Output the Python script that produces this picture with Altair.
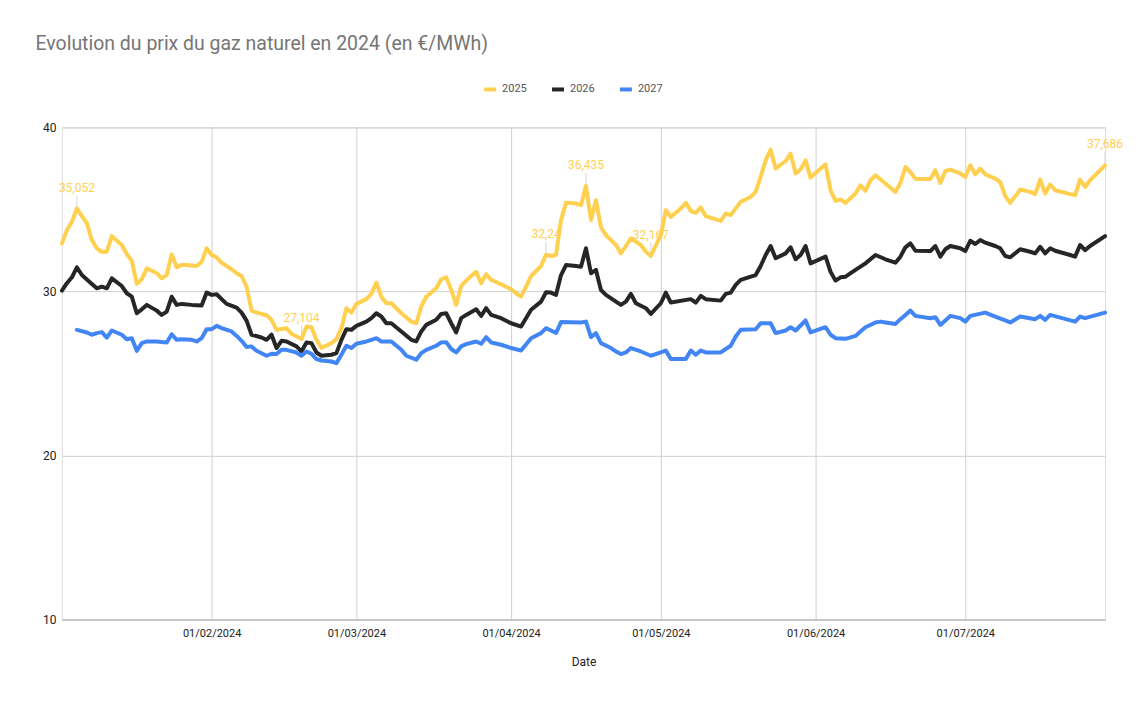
import altair as alt
import pandas as pd

# ---------------- data ----------------
series_names = ["2025", "2026", "2027"]
series_colors = ["#FFD04F", "#262626", "#4285F4"]

dates_2025 = [
    "01-02", "01-03", "01-04", "01-05", "01-07", "01-08", "01-09", "01-10", "01-11", "01-12", "01-14", "01-15", "01-16",
    "01-17", "01-18", "01-19", "01-21", "01-22", "01-23", "01-24", "01-25", "01-26", "01-27", "01-29", "01-30", "01-31",
    "02-01", "02-02", "02-03", "02-05", "02-06", "02-07", "02-08", "02-09", "02-10", "02-12", "02-13", "02-14", "02-16",
    "02-17", "02-19", "02-20", "02-21", "02-22", "02-23", "02-25", "02-26", "02-27", "02-28", "02-29",
    "03-01", "03-03", "03-04", "03-05", "03-06", "03-07", "03-08", "03-10", "03-12", "03-13", "03-14", "03-15", "03-17",
    "03-18", "03-19", "03-20", "03-21", "03-22", "03-23", "03-24", "03-25", "03-26", "03-27", "03-28", "03-30",
    "04-01", "04-02", "04-03", "04-04", "04-05", "04-07", "04-08", "04-09", "04-10", "04-11", "04-12", "04-14", "04-15",
    "04-16", "04-17", "04-18", "04-19", "04-20", "04-22", "04-23", "04-24", "04-25", "04-27", "04-28", "04-29",
    "05-01", "05-02", "05-03", "05-05", "05-06", "05-07", "05-08", "05-09", "05-10", "05-13", "05-14", "05-15", "05-16",
    "05-17", "05-19", "05-20", "05-21", "05-22", "05-23", "05-24", "05-26", "05-27", "05-28", "05-29", "05-30", "05-31",
    "06-03", "06-04", "06-05", "06-06", "06-07", "06-09", "06-10", "06-11", "06-12", "06-13", "06-15", "06-17", "06-18",
    "06-19", "06-20", "06-21", "06-24", "06-25", "06-26", "06-27", "06-28", "06-30",
    "07-01", "07-02", "07-03", "07-04", "07-05", "07-07", "07-08", "07-09", "07-10", "07-12", "07-14", "07-15", "07-16",
    "07-17", "07-18", "07-19", "07-22", "07-23", "07-24", "07-25", "07-26", "07-29",
]
values_2025 = [
    32.93, 33.74, 34.24, 35.052, 34.15, 33.13, 32.63, 32.42, 32.42, 33.37, 32.83, 32.28, 31.87,
    30.46, 30.74, 31.41, 31.11, 30.80, 31.00, 32.26, 31.47, 31.61, 31.61, 31.55, 31.81, 32.63,
    32.22, 32.08, 31.75, 31.35, 31.11, 30.94, 30.29, 28.83, 28.71, 28.55, 28.27, 27.66, 27.76,
    27.42, 27.104, 27.86, 27.82, 27.05, 26.55, 26.85, 27.09, 27.76, 28.98, 28.71,
    29.24, 29.53, 29.85, 30.54, 29.68, 29.28, 29.28, 28.67, 28.16, 28.06, 29.08, 29.68, 30.19,
    30.74, 30.86, 30.09, 29.18, 30.33, 30.66, 30.94, 31.20, 30.50, 31.05, 30.70, 30.44,
    30.13, 29.89, 29.68, 30.29, 30.94, 31.55, 32.24, 32.16, 32.22, 34.35, 35.40, 35.36, 35.26,
    36.435, 34.35, 35.56, 33.90, 33.43, 32.83, 32.32, 32.77, 33.23, 32.83, 32.42, 32.167,
    33.43, 34.95, 34.55, 35.06, 35.40, 34.91, 34.79, 35.12, 34.59, 34.30, 34.75, 34.65, 35.06,
    35.46, 35.76, 36.07, 36.98, 37.99, 38.64, 37.49, 37.95, 38.40, 37.19, 37.43, 37.99, 36.94,
    37.75, 36.17, 35.52, 35.61, 35.40, 35.97, 36.47, 36.13, 36.78, 37.08, 36.58, 36.07, 36.61,
    37.59, 37.28, 36.86, 36.86, 37.39, 36.61, 37.34, 37.43, 37.19,
    36.98, 37.69, 37.14, 37.49, 37.14, 36.88, 36.67, 35.81, 35.40, 36.21, 36.07, 35.93, 36.82,
    35.97, 36.52, 36.17, 35.93, 35.87, 36.82, 36.37, 36.78, 37.686,
]

dates_2026 = [
    "01-02", "01-03", "01-04", "01-05", "01-06", "01-08", "01-09", "01-10", "01-11", "01-12", "01-14", "01-15", "01-16",
    "01-17", "01-18", "01-19", "01-21", "01-22", "01-23", "01-24", "01-25", "01-26", "01-28", "01-30", "01-31",
    "02-01", "02-02", "02-03", "02-04", "02-06", "02-07", "02-08", "02-09", "02-11", "02-12", "02-13", "02-14", "02-15",
    "02-16", "02-18", "02-19", "02-20", "02-21", "02-22", "02-23", "02-25", "02-26", "02-27", "02-28", "02-29",
    "03-01", "03-03", "03-04", "03-05", "03-06", "03-07", "03-08", "03-10", "03-12", "03-13", "03-14", "03-15", "03-17",
    "03-18", "03-19", "03-20", "03-21", "03-22", "03-23", "03-25", "03-26", "03-27", "03-28", "03-30",
    "04-01", "04-03", "04-05", "04-07", "04-08", "04-09", "04-10", "04-11", "04-12", "04-14", "04-15", "04-16", "04-17",
    "04-18", "04-19", "04-20", "04-22", "04-23", "04-24", "04-25", "04-26", "04-28", "04-29",
    "05-01", "05-02", "05-03", "05-07", "05-08", "05-09", "05-10", "05-13", "05-14", "05-15", "05-16", "05-17", "05-20",
    "05-21", "05-22", "05-23", "05-24", "05-26", "05-27", "05-28", "05-29", "05-30", "05-31",
    "06-03", "06-04", "06-05", "06-06", "06-07", "06-09", "06-11", "06-13", "06-15", "06-17", "06-18", "06-19", "06-20",
    "06-21", "06-24", "06-25", "06-26", "06-27", "06-28", "06-30",
    "07-01", "07-02", "07-03", "07-04", "07-05", "07-07", "07-08", "07-09", "07-10", "07-12", "07-14", "07-15", "07-16",
    "07-17", "07-18", "07-19", "07-22", "07-23", "07-24", "07-25", "07-26", "07-29",
]
values_2026 = [
    30.05, 30.50, 30.86, 31.47, 31.00, 30.46, 30.19, 30.29, 30.19, 30.80, 30.33, 29.89, 29.68,
    28.67, 28.91, 29.18, 28.83, 28.57, 28.77, 29.68, 29.18, 29.24, 29.18, 29.14, 29.93,
    29.79, 29.83, 29.53, 29.24, 29.01, 28.71, 28.22, 27.36, 27.19, 27.05, 27.36, 26.55, 26.99,
    26.95, 26.65, 26.34, 26.89, 26.85, 26.28, 26.08, 26.14, 26.24, 27.05, 27.70, 27.66,
    27.90, 28.16, 28.37, 28.67, 28.47, 28.06, 28.06, 27.56, 27.05, 26.95, 27.56, 27.96, 28.27,
    28.63, 28.67, 28.06, 27.50, 28.37, 28.57, 28.91, 28.51, 28.98, 28.57, 28.37,
    28.06, 27.86, 28.88, 29.38, 29.95, 29.93, 29.79, 31.00, 31.61, 31.55, 31.51, 32.63, 31.11,
    31.31, 30.09, 29.79, 29.38, 29.18, 29.38, 29.85, 29.28, 28.98, 28.63,
    29.28, 29.93, 29.32, 29.53, 29.32, 29.73, 29.53, 29.44, 29.85, 29.93, 30.40, 30.70, 31.00,
    31.55, 32.22, 32.77, 32.02, 32.32, 32.69, 31.96, 32.22, 32.77, 31.71,
    32.12, 31.20, 30.66, 30.86, 30.90, 31.31, 31.71, 32.22, 31.96, 31.75, 32.12, 32.69, 32.93,
    32.48, 32.46, 32.77, 32.12, 32.57, 32.77, 32.63,
    32.46, 33.09, 32.89, 33.13, 32.97, 32.77, 32.63, 32.16, 32.08, 32.57, 32.42, 32.32, 32.72,
    32.32, 32.63, 32.48, 32.22, 32.12, 32.83, 32.52, 32.77, 33.37,
]

dates_2027 = [
    "01-05", "01-07", "01-08", "01-09", "01-10", "01-11", "01-12", "01-14", "01-15", "01-16", "01-17", "01-18", "01-19",
    "01-21", "01-23", "01-24", "01-25", "01-26", "01-28", "01-29", "01-30", "01-31",
    "02-01", "02-02", "02-03", "02-05", "02-06", "02-07", "02-08", "02-09", "02-10", "02-12", "02-13", "02-14", "02-15",
    "02-16", "02-18", "02-19", "02-20", "02-21", "02-22", "02-23", "02-25", "02-26", "02-27", "02-28", "02-29",
    "03-01", "03-03", "03-04", "03-05", "03-06", "03-08", "03-10", "03-11", "03-13", "03-14", "03-15", "03-17", "03-18",
    "03-19", "03-20", "03-21", "03-22", "03-23", "03-25", "03-26", "03-27", "03-28", "03-30",
    "04-01", "04-03", "04-05", "04-07", "04-08", "04-09", "04-10", "04-11", "04-15", "04-16", "04-17", "04-18", "04-19",
    "04-21", "04-22", "04-23", "04-24", "04-25", "04-27", "04-29",
    "05-01", "05-02", "05-03", "05-06", "05-07", "05-08", "05-09", "05-10", "05-13", "05-14", "05-15", "05-16", "05-17",
    "05-20", "05-21", "05-23", "05-24", "05-26", "05-27", "05-28", "05-30", "05-31",
    "06-03", "06-04", "06-05", "06-07", "06-09", "06-10", "06-11", "06-13", "06-14", "06-15", "06-17", "06-18", "06-19",
    "06-20", "06-21", "06-24", "06-25", "06-26", "06-27", "06-28", "06-30",
    "07-01", "07-02", "07-05", "07-07", "07-09", "07-10", "07-12", "07-15", "07-16", "07-17", "07-18", "07-23", "07-24",
    "07-25", "07-29",
]
values_2027 = [
    27.66, 27.50, 27.36, 27.46, 27.52, 27.19, 27.62, 27.36, 27.09, 27.15, 26.38, 26.85, 26.95,
    26.95, 26.89, 27.39, 27.05, 27.09, 27.05, 26.95, 27.15, 27.70,
    27.70, 27.90, 27.76, 27.56, 27.29, 26.99, 26.61, 26.65, 26.38, 26.08, 26.20, 26.18, 26.44,
    26.44, 26.28, 26.08, 26.34, 26.20, 25.88, 25.79, 25.73, 25.63, 26.14, 26.69, 26.55,
    26.81, 26.95, 27.05, 27.15, 26.95, 26.95, 26.44, 26.08, 25.84, 26.24, 26.44, 26.69, 26.89,
    26.91, 26.49, 26.28, 26.65, 26.79, 26.95, 26.81, 27.21, 26.89, 26.75,
    26.55, 26.40, 27.15, 27.46, 27.76, 27.62, 27.46, 28.13, 28.11, 28.16, 27.21, 27.46, 26.85,
    26.55, 26.34, 26.18, 26.28, 26.55, 26.34, 26.08,
    26.28, 26.40, 25.88, 25.88, 26.40, 26.14, 26.40, 26.28, 26.28, 26.49, 26.69, 27.25, 27.66,
    27.70, 28.06, 28.06, 27.46, 27.62, 27.82, 27.62, 28.23, 27.50,
    27.82, 27.36, 27.15, 27.11, 27.29, 27.56, 27.82, 28.11, 28.16, 28.11, 28.02, 28.31, 28.57,
    28.83, 28.51, 28.37, 28.43, 27.96, 28.23, 28.51, 28.37,
    28.16, 28.51, 28.71, 28.47, 28.23, 28.11, 28.47, 28.31, 28.51, 28.27, 28.57, 28.16, 28.47,
    28.37, 28.71,
]

# data labels shown on the 2025 series
label_dates = ["01-05", "02-19", "04-08", "04-16", "04-29", "07-29"]
label_values = [35.052, 27.104, 32.24, 36.435, 32.167, 37.686]
label_texts = ["35,052", "27,104", "32,24", "36,435", "32,167", "37,686"]

month_ticks = [2, 3, 4, 5, 6, 7]

# ---------------- build tables ----------------
rows = []
for name, ds, vs in [("2025", dates_2025, values_2025),
                     ("2026", dates_2026, values_2026),
                     ("2027", dates_2027, values_2027)]:
    assert len(ds) == len(vs), (name, len(ds), len(vs))
    for d, v in zip(ds, vs):
        rows.append({"Date": "2024-" + d, "Année": name, "Prix": v})
df = pd.DataFrame(rows)

lab = pd.DataFrame({
    "Date": ["2024-" + d for d in label_dates],
    "Prix": label_values,
    "txt": label_texts,
})

FONT = "Roboto"

x_enc = alt.X(
    "Date:T",
    title="Date",
    scale=alt.Scale(
        type="utc",
        domain=[alt.DateTime(year=2024, month=1, date=2, utc=True),
                alt.DateTime(year=2024, month=7, date=29, utc=True)],
    ),
    axis=alt.Axis(
        values=[alt.DateTime(year=2024, month=m, date=1, utc=True) for m in month_ticks],
        format="%d/%m/%Y",
        ticks=False,
        domain=True,
        domainColor="#b0b0b0",
        grid=True,
        gridColor="#d0d0d0",
        labelFont=FONT,
        labelFontSize=11,
        labelColor="#222222",
        labelPadding=8,
        titleFont=FONT,
        titleFontSize=12,
        titleFontWeight="normal",
        titleColor="#222222",
        titlePadding=18,
    ),
)
y_enc = alt.Y(
    "Prix:Q",
    title=None,
    scale=alt.Scale(domain=[10, 40], nice=False, zero=False),
    axis=alt.Axis(
        values=[10, 20, 30, 40],
        ticks=False,
        domain=False,
        grid=True,
        gridColor="#d0d0d0",
        labelFont=FONT,
        labelFontSize=12,
        labelColor="#222222",
        labelPadding=6,
    ),
)

lines = alt.Chart(df).mark_line(strokeWidth=4, strokeJoin="round", strokeCap="round").encode(
    x=x_enc,
    y=y_enc,
    color=alt.Color(
        "Année:N",
        scale=alt.Scale(domain=series_names, range=series_colors),
        legend=alt.Legend(
            title=None,
            orient="none",
            direction="horizontal",
            legendX=421,
            legendY=-46,
            symbolType="stroke",
            symbolSize=144,
            symbolStrokeWidth=4,
            labelFont=FONT,
            labelFontSize=11,
            labelColor="#555555",
            columnPadding=17,
            labelOffset=4,
        ),
    ),
    detail="Année:N",
)

leaders = alt.Chart(lab).mark_rule(color="#d6d6d6", strokeWidth=1, y2Offset=-13).encode(
    x="Date:T",
    y="Prix:Q",
    y2="Prix:Q",
)

labels = alt.Chart(lab).mark_text(
    font=FONT, fontSize=12, color=series_colors[0], dy=-21, baseline="middle", align="center"
).encode(
    x="Date:T",
    y="Prix:Q",
    text="txt:N",
)

chart = alt.layer(leaders, lines, labels).properties(
    width=1045,
    height=493,
    title=alt.TitleParams(
        text="Evolution du prix du gaz naturel en 2024 (en €/MWh)",
        anchor="start",
        font=FONT,
        fontSize=19.5,
        fontWeight="normal",
        color="#757575",
        dx=-7,
        offset=27,
    ),
    autosize=alt.AutoSizeParams(type="none"),
    padding={"left": 54, "top": 119, "right": 30, "bottom": 70},
).configure_view(stroke=None).configure(background="white")

chart.save("out.html", embed_options={"renderer": "svg", "actions": False})
